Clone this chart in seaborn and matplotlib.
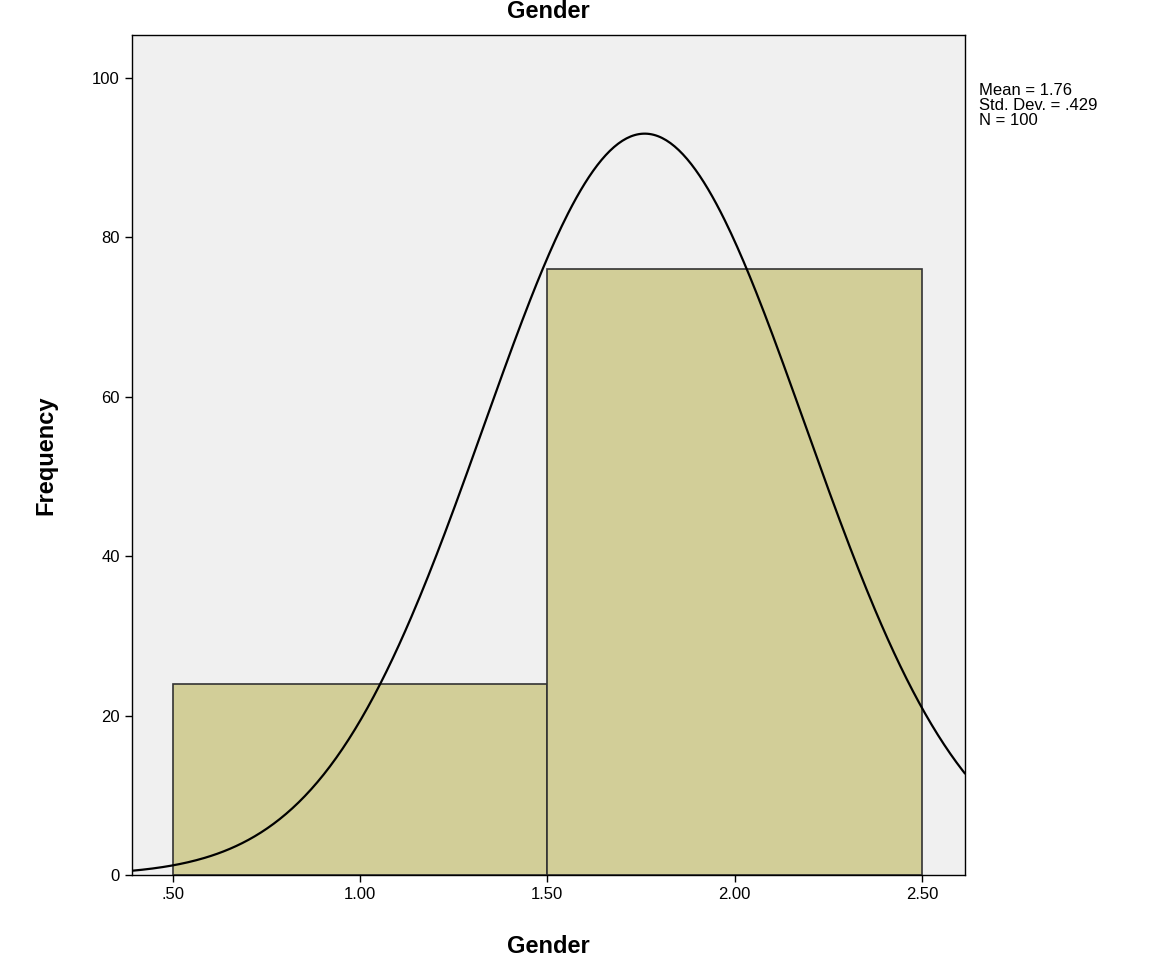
import numpy as np
import matplotlib
matplotlib.use("Agg")
import matplotlib.pyplot as plt
import seaborn as sns

# Data
gender_codes = [1, 2]
counts = [24, 76]
bin_edges = [0.5, 1.5, 2.5]
mean = 1.76
std_dev = 0.429
n_total = 100
x_ticks = [0.5, 1.0, 1.5, 2.0, 2.5]
x_tick_labels = ['.50', '1.00', '1.50', '2.00', '2.50']
y_ticks = [0, 20, 40, 60, 80, 100]

sns.set_style("white")
plt.rcParams['font.family'] = ['Liberation Sans', 'DejaVu Sans']
plt.rcParams['text.color'] = 'black'
plt.rcParams['axes.labelcolor'] = 'black'

fig, ax = plt.subplots(figsize=(11.64, 9.64), dpi=100)
plt.subplots_adjust(left=0.113, right=0.829, top=0.964, bottom=0.092)
ax.set_facecolor('#F0F0F0')

sns.histplot(x=gender_codes, weights=counts, bins=bin_edges, ax=ax,
             color='#D2CE98', alpha=1, edgecolor='#333333', linewidth=1.2)

# Fitted normal curve
xs = np.linspace(0.39, 2.615, 400)
bw = bin_edges[1] - bin_edges[0]
ys = n_total * bw * np.exp(-0.5 * ((xs - mean) / std_dev) ** 2) / (std_dev * np.sqrt(2 * np.pi))
ax.plot(xs, ys, color='black', linewidth=1.6)

ax.set_xlim(0.39, 2.615)
ax.set_ylim(0, 105.4)
ax.set_xticks(x_ticks)
ax.set_xticklabels(x_tick_labels)
ax.set_yticks(y_ticks)
ax.tick_params(axis='both', direction='out', length=5, width=1,
               labelsize=12, colors='black', left=True, bottom=True)
for s in ax.spines.values():
    s.set_color('black')
    s.set_linewidth(1)

ax.set_xlabel('Gender', fontsize=17, fontweight='bold', labelpad=24)
ax.set_ylabel('Frequency', fontsize=17, fontweight='bold', labelpad=25)
fig.text(0.471, 1 - 12 / 964, 'Gender', fontsize=17, fontweight='bold',
         ha='center', va='center')

fig.text(0.841, 1 - 83 / 964, 'Mean = 1.76\nStd. Dev. = .429\nN = 100',
         fontsize=12, va='top', ha='left', linespacing=1.0)

plt.savefig('out.png', dpi=100)
